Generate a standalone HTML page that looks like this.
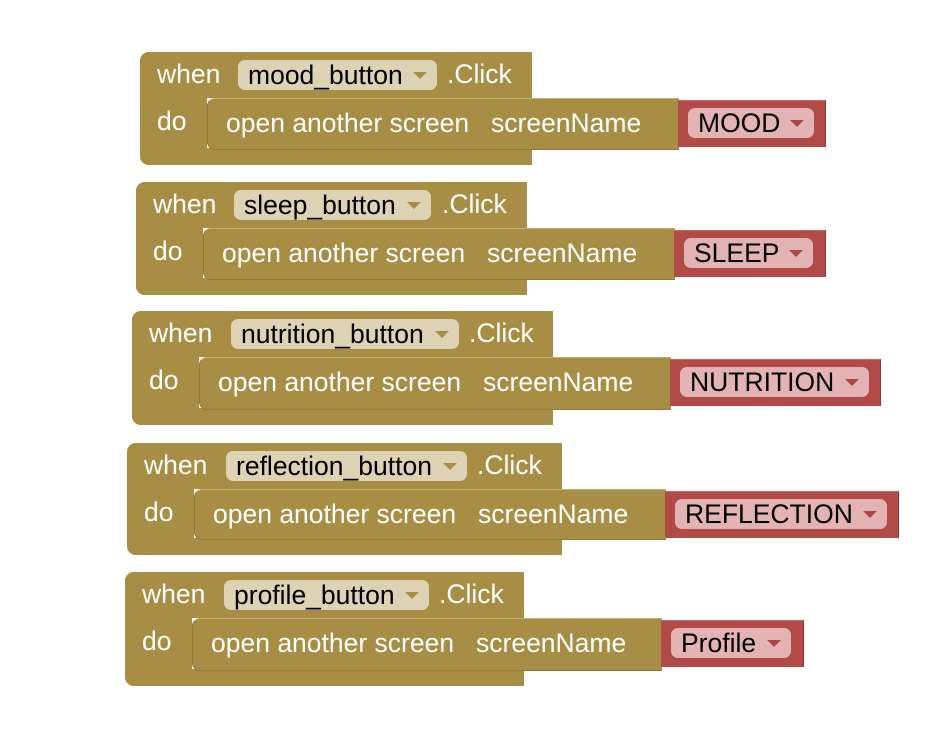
<!DOCTYPE html><html><head><style>
body{margin:0;width:937px;height:750px;background:#fff;position:relative;font-family:"Liberation Sans",Arial,sans-serif;overflow:hidden}
.a{position:absolute}
.g{background:#A88D44}
.t{position:absolute;color:#fff;font-size:26.5px;line-height:30px;white-space:nowrap}
.p{position:absolute;background:#DDD2B4;border-radius:7px;height:30px;color:#000;font-size:26.5px;line-height:30px;padding-left:10px;box-sizing:border-box;white-space:nowrap}
.rp{position:absolute;background:#E3B3B4;border-radius:7px;height:30px;color:#000;font-size:26.5px;line-height:30px;padding-left:10px;box-sizing:border-box;white-space:nowrap}
.ar{position:absolute;right:10px;top:12px;width:0;height:0;border-left:7px solid transparent;border-right:7px solid transparent;border-top:7px solid #A88D44}
.ar2{position:absolute;right:10px;top:12px;width:0;height:0;border-left:7px solid transparent;border-right:7px solid transparent;border-top:7px solid #B04545}
.r{background:#B24A48;border-top:1px solid #c66;border-right:1px solid #8e3532}
.s{background:#A88D44;border:1px solid #8f7838;border-right:none;border-top-color:#c4ad6a;border-radius:8px 0 0 8px}
</style></head><body>

<!-- 1 -->
<div class="a g" style="left:140px;top:52px;width:392px;height:46px;border-radius:9px 0 0 0"></div>
<div class="a g" style="left:140px;top:52px;width:67px;height:113px;border-radius:9px 0 0 9px"></div>
<div class="a g" style="left:140px;top:148px;width:392px;height:17px;border-radius:0 0 0 9px"></div>
<div class="a s" style="left:207px;top:98px;width:471px;height:50px"></div>
<div class="a r" style="left:678px;top:100px;width:147px;height:46px"></div>
<div class="t" style="left:157px;top:59px">when</div>
<div class="p" style="left:238px;top:60px;width:199px">mood_button<span class="ar"></span></div>
<div class="t" style="left:447px;top:59px">.Click</div>
<div class="t" style="left:157px;top:106px">do</div>
<div class="t" style="left:226px;top:108px">open another screen</div>
<div class="t" style="left:491px;top:108px">screenName</div>
<div class="rp" style="left:688px;top:108px;width:126px">MOOD<span class="ar2"></span></div>

<!-- 2 -->
<div class="a g" style="left:136px;top:182px;width:391px;height:46px;border-radius:9px 0 0 0"></div>
<div class="a g" style="left:136px;top:182px;width:67px;height:113px;border-radius:9px 0 0 9px"></div>
<div class="a g" style="left:136px;top:278px;width:391px;height:17px;border-radius:0 0 0 9px"></div>
<div class="a s" style="left:203px;top:228px;width:471px;height:50px"></div>
<div class="a r" style="left:674px;top:230px;width:151px;height:46px"></div>
<div class="t" style="left:153px;top:189px">when</div>
<div class="p" style="left:234px;top:190px;width:197px">sleep_button<span class="ar"></span></div>
<div class="t" style="left:442px;top:189px">.Click</div>
<div class="t" style="left:153px;top:236px">do</div>
<div class="t" style="left:222px;top:238px">open another screen</div>
<div class="t" style="left:487px;top:238px">screenName</div>
<div class="rp" style="left:684px;top:238px;width:129px">SLEEP<span class="ar2"></span></div>

<!-- 3 -->
<div class="a g" style="left:132px;top:311px;width:421px;height:46px;border-radius:9px 0 0 0"></div>
<div class="a g" style="left:132px;top:311px;width:67px;height:114px;border-radius:9px 0 0 9px"></div>
<div class="a g" style="left:132px;top:408px;width:421px;height:17px;border-radius:0 0 0 9px"></div>
<div class="a s" style="left:199px;top:357px;width:471px;height:51px"></div>
<div class="a r" style="left:670px;top:359px;width:210px;height:46px"></div>
<div class="t" style="left:149px;top:318px">when</div>
<div class="p" style="left:231px;top:319px;width:228px">nutrition_button<span class="ar"></span></div>
<div class="t" style="left:469px;top:318px">.Click</div>
<div class="t" style="left:149px;top:365px">do</div>
<div class="t" style="left:218px;top:367px">open another screen</div>
<div class="t" style="left:483px;top:367px">screenName</div>
<div class="rp" style="left:680px;top:367px;width:189px">NUTRITION<span class="ar2"></span></div>

<!-- 4 -->
<div class="a g" style="left:127px;top:443px;width:435px;height:46px;border-radius:9px 0 0 0"></div>
<div class="a g" style="left:127px;top:443px;width:67px;height:112px;border-radius:9px 0 0 9px"></div>
<div class="a g" style="left:127px;top:538px;width:435px;height:17px;border-radius:0 0 0 9px"></div>
<div class="a s" style="left:194px;top:489px;width:471px;height:49px"></div>
<div class="a r" style="left:665px;top:491px;width:233px;height:46px"></div>
<div class="t" style="left:144px;top:450px">when</div>
<div class="p" style="left:226px;top:451px;width:241px">reflection_button<span class="ar"></span></div>
<div class="t" style="left:477px;top:450px">.Click</div>
<div class="t" style="left:144px;top:497px">do</div>
<div class="t" style="left:213px;top:499px">open another screen</div>
<div class="t" style="left:478px;top:499px">screenName</div>
<div class="rp" style="left:675px;top:499px;width:212px">REFLECTION<span class="ar2"></span></div>

<!-- 5 -->
<div class="a g" style="left:125px;top:572px;width:399px;height:46px;border-radius:9px 0 0 0"></div>
<div class="a g" style="left:125px;top:572px;width:67px;height:114px;border-radius:9px 0 0 9px"></div>
<div class="a g" style="left:125px;top:669px;width:399px;height:17px;border-radius:0 0 0 9px"></div>
<div class="a s" style="left:192px;top:618px;width:469px;height:51px"></div>
<div class="a r" style="left:661px;top:620px;width:142px;height:46px"></div>
<div class="t" style="left:142px;top:579px">when</div>
<div class="p" style="left:224px;top:580px;width:205px">profile_button<span class="ar"></span></div>
<div class="t" style="left:439px;top:579px">.Click</div>
<div class="t" style="left:142px;top:626px">do</div>
<div class="t" style="left:211px;top:628px">open another screen</div>
<div class="t" style="left:476px;top:628px">screenName</div>
<div class="rp" style="left:671px;top:628px;width:120px">Profile<span class="ar2"></span></div>

</body></html>
